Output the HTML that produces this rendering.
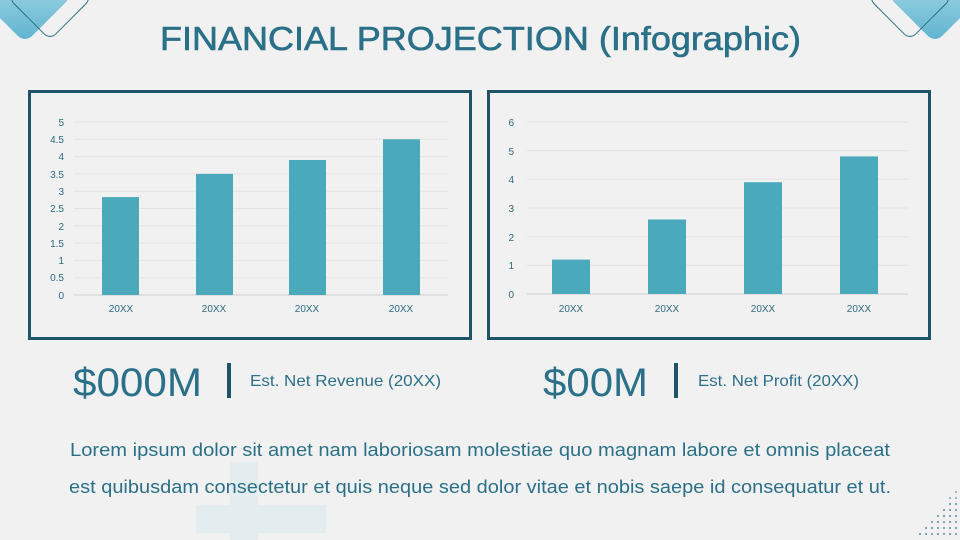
<!DOCTYPE html>
<html><head><style>
body{margin:0;width:960px;height:540px;background:#f1f1f1;position:relative;overflow:hidden;font-family:"Liberation Sans",sans-serif;color:#2a7088}
.a{position:absolute}
</style></head><body>
<svg class="a" style="left:0;top:0" width="960" height="540">
<defs><linearGradient id="g" x1="0" y1="0" x2="1" y2="1"><stop offset="0" stop-color="#c4e8ee"/><stop offset="1" stop-color="#5cb2cf"/></linearGradient></defs>
<rect x="-9" y="-39" width="68" height="68" rx="10" fill="url(#g)" transform="rotate(45 25 -5)"/>
<rect x="20.5" y="-31.5" width="59" height="59" rx="8" fill="none" stroke="#2a7088" stroke-width="1" transform="rotate(45 50 -2)"/>
<rect x="901" y="-39" width="68" height="68" rx="10" fill="url(#g)" transform="rotate(45 935 -5)"/>
<rect x="880.5" y="-31.5" width="59" height="59" rx="8" fill="none" stroke="#2a7088" stroke-width="1" transform="rotate(45 910 -2)"/>
<rect x="230" y="462" width="28" height="80" fill="#e3ecee"/>
<rect x="196" y="505" width="130" height="28" fill="#e3ecee"/>
<rect x="29.5" y="91.5" width="441" height="247" fill="none" stroke="#1f5468" stroke-width="3"/>
<rect x="488.5" y="91.5" width="441" height="247" fill="none" stroke="#1f5468" stroke-width="3"/>
<g stroke="#e2e2e2" stroke-width="1">
<line x1="74" x2="448" y1="122" y2="122"/><line x1="74" x2="448" y1="139.3" y2="139.3"/><line x1="74" x2="448" y1="156.6" y2="156.6"/><line x1="74" x2="448" y1="173.9" y2="173.9"/><line x1="74" x2="448" y1="191.2" y2="191.2"/><line x1="74" x2="448" y1="208.5" y2="208.5"/><line x1="74" x2="448" y1="225.8" y2="225.8"/><line x1="74" x2="448" y1="243.1" y2="243.1"/><line x1="74" x2="448" y1="260.4" y2="260.4"/><line x1="74" x2="448" y1="277.7" y2="277.7"/>
<line x1="527" x2="908" y1="122" y2="122"/><line x1="527" x2="908" y1="150.7" y2="150.7"/><line x1="527" x2="908" y1="179.3" y2="179.3"/><line x1="527" x2="908" y1="208" y2="208"/><line x1="527" x2="908" y1="236.7" y2="236.7"/><line x1="527" x2="908" y1="265.3" y2="265.3"/>
</g>
<line x1="74" x2="448" y1="295" y2="295" stroke="#d0d0d0"/>
<line x1="527" x2="908" y1="294" y2="294" stroke="#d0d0d0"/>
<g fill="#4ba9bc">
<rect x="102" y="197.1" width="37" height="97.9"/><rect x="196" y="173.9" width="37" height="121.1"/><rect x="289" y="160" width="37" height="135"/><rect x="383" y="139.3" width="37" height="155.7"/>
<rect x="552" y="259.6" width="38" height="34.4"/><rect x="648" y="219.5" width="38" height="74.5"/><rect x="744" y="182.2" width="38" height="111.8"/><rect x="840" y="156.4" width="38" height="137.6"/>
</g>
<g font-family="Liberation Sans" font-size="10" fill="#2a6a80" text-anchor="end">
<text x="64" y="126">5</text><text x="64" y="143">4.5</text><text x="64" y="160">4</text><text x="64" y="178">3.5</text><text x="64" y="195">3</text><text x="64" y="212">2.5</text><text x="64" y="230">2</text><text x="64" y="247">1.5</text><text x="64" y="264">1</text><text x="64" y="281">0.5</text><text x="64" y="299">0</text>
<text x="514" y="126">6</text><text x="514" y="155">5</text><text x="514" y="183">4</text><text x="514" y="212">3</text><text x="514" y="241">2</text><text x="514" y="269">1</text><text x="514" y="298">0</text>
</g>
<g font-family="Liberation Sans" font-size="10" fill="#2a6a80" text-anchor="middle">
<text x="121" y="312">20XX</text><text x="214" y="312">20XX</text><text x="307" y="312">20XX</text><text x="401" y="312">20XX</text>
<text x="571" y="312">20XX</text><text x="667" y="312">20XX</text><text x="763" y="312">20XX</text><text x="859" y="312">20XX</text>
</g>
<rect x="227" y="363" width="4" height="35" fill="#1f5468"/>
<rect x="674" y="363" width="4" height="35" fill="#1f5468"/>
<text x="160" y="50" font-family="Liberation Sans" font-size="33" fill="#2a7088" stroke="#2a7088" stroke-width="0.6" textLength="641" lengthAdjust="spacingAndGlyphs">FINANCIAL PROJECTION (Infographic)</text>
<text x="73" y="396" font-family="Liberation Sans" font-size="40" fill="#2a7088" textLength="129" lengthAdjust="spacingAndGlyphs">$000M</text>
<text x="543" y="396" font-family="Liberation Sans" font-size="40" fill="#2a7088" textLength="105" lengthAdjust="spacingAndGlyphs">$00M</text>
<text x="250" y="386" font-family="Liberation Sans" font-size="16" fill="#2a7088" textLength="191" lengthAdjust="spacingAndGlyphs">Est. Net Revenue (20XX)</text>
<text x="698" y="386" font-family="Liberation Sans" font-size="16" fill="#2a7088" textLength="161" lengthAdjust="spacingAndGlyphs">Est. Net Profit (20XX)</text>
<text x="70" y="456" font-family="Liberation Sans" font-size="18" fill="#2a7088" textLength="820" lengthAdjust="spacingAndGlyphs">Lorem ipsum dolor sit amet nam laboriosam molestiae quo magnam labore et omnis placeat</text>
<text x="69" y="493" font-family="Liberation Sans" font-size="18" fill="#2a7088" textLength="822" lengthAdjust="spacingAndGlyphs">est quibusdam consectetur et quis neque sed dolor vitae et nobis saepe id consequatur et ut.</text>
<g fill="#2a7088">
<circle cx="956" cy="492" r="0.8"/><circle cx="956" cy="498" r="0.8"/><circle cx="950" cy="498" r="0.8"/>
<circle cx="956" cy="504" r="0.9"/><circle cx="950" cy="504" r="0.9"/><circle cx="944" cy="510" r="0.9"/><circle cx="950" cy="510" r="0.9"/><circle cx="956" cy="510" r="0.9"/>
<circle cx="938" cy="516" r="0.9"/><circle cx="944" cy="516" r="0.9"/><circle cx="950" cy="516" r="0.9"/><circle cx="956" cy="516" r="0.9"/>
<circle cx="932" cy="522" r="0.9"/><circle cx="938" cy="522" r="0.9"/><circle cx="944" cy="522" r="0.9"/><circle cx="950" cy="522" r="0.9"/><circle cx="956" cy="522" r="0.9"/>
<circle cx="926" cy="528" r="0.9"/><circle cx="932" cy="528" r="0.9"/><circle cx="938" cy="528" r="0.9"/><circle cx="944" cy="528" r="0.9"/><circle cx="950" cy="528" r="0.9"/><circle cx="956" cy="528" r="0.9"/>
<circle cx="920" cy="534" r="0.9"/><circle cx="926" cy="534" r="0.9"/><circle cx="932" cy="534" r="0.9"/><circle cx="938" cy="534" r="0.9"/><circle cx="944" cy="534" r="0.9"/><circle cx="950" cy="534" r="0.9"/><circle cx="956" cy="534" r="0.9"/>
</g>
</svg>
</body></html>
